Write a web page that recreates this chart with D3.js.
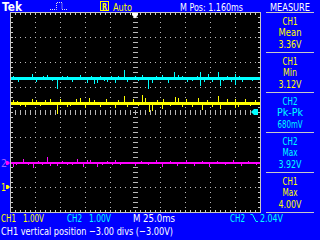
<!DOCTYPE html>
<html lang="en">
<head>
<meta charset="UTF-8">
<script src="https://d3js.org/d3.v7.min.js"></script>
<style>
  body { margin: 0; background: #0000ff; }
  svg { display: block; }
  text { font-family: "DejaVu Sans", sans-serif; font-size: 10.5px; }
</style>
</head>
<body>
<svg id="scope" width="320" height="240"></svg>
<script>
// waveform readings: [time ms, volts]
const ch1Base = 3.35;
const ch1Spikes = [[3,3.48],[7,3.44],[10,3.25],[15,3.21],[22,3.51],[26,3.48],[30,3.24],[35,3.48],[40,3.51],[47,2.92],[50,3.51],[57,3.21],[60,3.24],[66,3.51],[70,3.57],[75,3.17],[79,3.55],[84,3.48],[90,3.21],[96,3.51],[105,3.17],[108,3.48],[114,3.64],[117,3.21],[123,3.51],[128,3.25],[132,3.68],[135,3.55],[139,3.01],[142,3.05],[147,3.47],[152,3.11],[153,3.51],[160,3.24],[165,3.59],[168,3.55],[172,3.21],[176,3.51],[182,3.21],[188,3.57],[192,3.08],[197,3.48],[202,3.21],[208,3.64],[210,3.11],[217,3.51],[225,3.51],[225,3.15],[228,3.21],[235,3.51],[240,3.24],[245,3.47]];
const ch2Base = 3.37;
const ch2Spikes = [[3,3.48],[8,3.26],[15,3.46],[22,3.56],[26,3.25],[33,3.47],[37,3.52],[42,3.27],[47,2.96],[52,3.49],[57,3.48],[62,3.26],[70,3.51],[77,3.19],[81,3.47],[84,3.15],[87,3.21],[90,3.48],[94,3.27],[97,3.24],[101,3.47],[105,3.21],[108,3.49],[114,3.72],[117,3.24],[121,3.46],[125,3.48],[128,3.27],[132,3.52],[138,2.96],[142,3.19],[146,3.47],[152,3.51],[158,3.21],[164,3.63],[168,3.52],[172,3.48],[177,3.25],[182,3.27],[187,3.48],[190,3.63],[190,3.09],[194,3.26],[198,3.56],[202,3.25],[208,3.63],[210,3.09],[213,3.27],[217,3.49],[221,3.26],[225,3.56],[225,3.13],[229,3.47],[232,3.25],[237,3.45],[242,3.27],[246,3.46]];
const ch3Base = 0.01;
const ch3Spikes = [[3,-0.15],[6,-0.08],[13,0.16],[18,-0.06],[23,-0.21],[28,0.08],[32,-0.08],[37,0.25],[40,-0.12],[47,-0.12],[52,0.07],[57,-0.08],[62,-0.08],[67,0.16],[73,-0.17],[77,0.12],[80,0.12],[87,-0.17],[92,-0.08],[97,0.09],[102,-0.08],[105,0.12],[110,-0.08],[117,-0.04],[125,-0.12],[131,0.1],[138,-0.08],[146,0.12],[152,-0.15],[160,0.09],[167,-0.1],[176,0.14],[184,-0.12],[192,0.08],[199,-0.14],[207,0.1],[215,-0.08],[223,0.12],[231,-0.12],[238,0.09],[246,-0.08]];

// channel settings
const ch1Pos = -3.00, ch2Pos = -2.04;
const voltsPerDiv = 1.0;
const trigLevel = 2.04;

// measure panel
const measSrc = ["CH1", "CH1", "CH2", "CH2", "CH1"];
const measType = ["Mean", "Min", "Pk-Pk", "Max", "Max"];
const measVal = ["3.36V", "3.12V", "680mV", "3.92V", "4.00V"];

const YEL = "#ffff00", CYA = "#00ffff", MAG = "#ff00ff", GRID = "#b8b8b8";
const colorOf = {CH1: YEL, CH2: CYA};

const svg = d3.select("#scope");
const x = d3.scaleLinear().domain([0, 250]).range([10, 260]);
const divY = d3.scaleLinear().domain([-4, 4]).range([212, 12]);
const yv = (v, pos) => divY(v / voltsPerDiv + pos);

svg.append("rect").attr("width", 320).attr("height", 240).attr("fill", "#0000ff");
svg.append("rect").attr("x", 10).attr("y", 12).attr("width", 250).attr("height", 200).attr("fill", "#000");

// graticule
const g = svg.append("g").attr("shape-rendering", "crispEdges");
for (let k = 1; k < 10; k++) {
  if (k == 5) continue;
  for (let j = 1; j < 40; j++)
    g.append("rect").attr("x", 10 + 25 * k).attr("y", 12 + 5 * j).attr("width", 1).attr("height", 1).attr("fill", GRID);
}
for (let k = 1; k < 8; k++) {
  if (k == 4) continue;
  for (let j = 1; j < 50; j++)
    g.append("rect").attr("x", 10 + 5 * j).attr("y", 12 + 25 * k).attr("width", 1).attr("height", 1).attr("fill", GRID);
}
// centre lines with tick marks
for (let j = 1; j < 40; j++)
  g.append("rect").attr("x", 133).attr("y", 12 + 5 * j).attr("width", 5).attr("height", 1).attr("fill", GRID);
for (let j = 1; j < 50; j++)
  g.append("rect").attr("x", 10 + 5 * j).attr("y", 110).attr("width", 1).attr("height", 5).attr("fill", GRID);
// border + ticks
g.append("rect").attr("x", 10.5).attr("y", 12.5).attr("width", 250).attr("height", 200)
  .attr("fill", "none").attr("stroke", "#c8c8c8");
for (let j = 1; j < 50; j++) {
  g.append("rect").attr("x", 10 + 5 * j).attr("y", 13).attr("width", 1).attr("height", 2).attr("fill", "#c8c8c8");
  g.append("rect").attr("x", 10 + 5 * j).attr("y", 210).attr("width", 1).attr("height", 2).attr("fill", "#c8c8c8");
}
for (let j = 1; j < 40; j++) {
  g.append("rect").attr("x", 11).attr("y", 12 + 5 * j).attr("width", 2).attr("height", 1).attr("fill", "#c8c8c8");
  g.append("rect").attr("x", 258).attr("y", 12 + 5 * j).attr("width", 2).attr("height", 1).attr("fill", "#c8c8c8");
}

// traces
function trace(base, spikes, pos, color, w) {
  const t = svg.append("g").attr("shape-rendering", "crispEdges");
  t.append("line").attr("x1", x(0) + 1).attr("x2", x(250))
    .attr("y1", yv(base, pos)).attr("y2", yv(base, pos))
    .attr("stroke", color).attr("stroke-width", w);
  t.selectAll(".sp").data(spikes).enter().append("line")
    .attr("x1", d => x(d[0]) + 0.5).attr("x2", d => x(d[0]) + 0.5)
    .attr("y1", yv(base, pos)).attr("y2", d => yv(d[1], pos))
    .attr("stroke", color).attr("stroke-width", 1);
}
trace(ch3Base, ch3Spikes, ch2Pos, MAG, 2.5);
trace(ch2Base, ch2Spikes, ch2Pos, CYA, 3);
trace(ch1Base, ch1Spikes, ch1Pos, YEL, 3.5);

// text helper: fixed widths to mimic the narrow scope font
function label(str, x0, y0, color, w, anchor, bold, size) {
  const t = svg.append("text").attr("x", x0).attr("y", y0).attr("fill", color)
    .attr("text-anchor", anchor || "start").text(str);
  if (w) t.attr("textLength", w).attr("lengthAdjust", "spacingAndGlyphs");
  if (bold) t.attr("font-weight", "bold");
  if (size) t.style("font-size", size + "px");
  return t;
}

// header
label("Tek", 2, 10.5, "#fff", 20, "start", true, 12);
svg.append("path").attr("d", "M50,9.5H56.5V2.5H62V9.5H67").attr("fill", "none")
  .attr("stroke", "#e0e0e0").attr("stroke-dasharray", "1,1");
svg.append("rect").attr("x", 100.5).attr("y", 1.5).attr("width", 8).attr("height", 9)
  .attr("fill", "none").attr("stroke", YEL);
label("R", 104.5, 9.5, YEL, 5, "middle", true, 8);
label("Auto", 113, 10.5, YEL, 19);
label("M Pos: 1.160ms", 180, 10.5, "#fff", 63);
label("MEASURE", 270, 10.5, "#fff", 40);

// trigger position marker
svg.append("path").attr("d", "M132,13H138V15L135,18.5L132,15Z").attr("fill", "#fff");
// trigger level marker
svg.append("path").attr("d", `M251,${yv(trigLevel, ch2Pos)}L254,${yv(trigLevel, ch2Pos) - 3}H258V${yv(trigLevel, ch2Pos) + 3}H254Z`)
  .attr("fill", CYA);

// ground markers
label("2", 1, yv(0, ch2Pos) + 4, "#a060ff", 6, "start", false, 11);
svg.append("path").attr("d", `M6,${yv(0, ch2Pos) - 2}H8L10,${yv(0, ch2Pos)}L8,${yv(0, ch2Pos) + 2}H6Z`).attr("fill", MAG);
label("1", 1, yv(0, ch1Pos) + 4, YEL, 5, "start", false, 11);
svg.append("path").attr("d", `M6,${yv(0, ch1Pos) - 2}H8L10,${yv(0, ch1Pos)}L8,${yv(0, ch1Pos) + 2}H6Z`).attr("fill", YEL);

// measure panel
const typeW = {"Mean": 23, "Min": 14, "Pk-Pk": 26, "Max": 15};
svg.append("line").attr("x1", 266).attr("x2", 314).attr("y1", 12.5).attr("y2", 12.5).attr("stroke", "#c8c8c8");
measSrc.forEach((s, i) => {
  const top = 12 + 40 * i, c = colorOf[s];
  label(s, 290, top + 13, c, 15, "middle");
  label(measType[i], 290, top + 24, c, typeW[measType[i]], "middle");
  label(measVal[i], 290, top + 35.5, c, measVal[i] == "680mV" ? 25 : 23, "middle");
  svg.append("line").attr("x1", 266).attr("x2", 314).attr("y1", top + 40.5).attr("y2", top + 40.5).attr("stroke", "#c8c8c8");
});

// status line
label("CH1", 1, 222, YEL, 15);
label("1.00V", 23, 222, YEL, 21);
label("CH2", 67, 222, CYA, 15);
label("1.00V", 89, 222, CYA, 22);
label("M 25.0ms", 133, 222, "#fff", 42);
label("CH2", 230, 222, CYA, 15);
svg.append("path").attr("d", "M250.5,214.5H252.5L256,221.5H258").attr("fill", "none").attr("stroke", CYA);
label("2.04V", 260, 222, CYA, 23);
label("CH1 vertical position \u22123.00 divs (\u22123.00V)", 1, 235, "#fff", 172);
</script>
</body>
</html>
